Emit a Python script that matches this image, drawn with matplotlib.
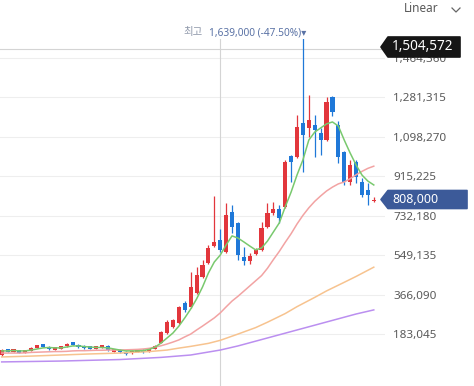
import matplotlib.pyplot as plt
from matplotlib.patches import Polygon
from matplotlib.lines import Line2D

plt.rcParams['font.family'] = ['Noto Sans', 'Noto Sans CJK KR', 'DejaVu Sans']

K = 1000  # values below are in thousands of won

# daily candles (open / high / low / close)
opens_k = [88, 116, 104, 110, 98, 108, 121, 139, 126, 111, 118, 128, 148, 135, 132, 129,
           118, 122, 132, 102, 112, 104, 95, 102, 112, 106, 116, 144, 189, 218, 236, 329,
           312, 375, 450, 514, 595, 621, 567, 752, 700, 542, 524, 556, 575, 681, 746, 765,
           775, 1010, 1006, 1163, 1140, 1154, 1117, 1084, 1285, 1154, 1030, 891, 984, 891, 853, 800]
highs_k = [118, 118, 118, 112, 112, 123, 136, 141, 128, 125, 132, 143, 150, 137, 134, 131,
           132, 136, 134, 116, 114, 106, 109, 116, 114, 121, 133, 199, 248, 253, 315, 338,
           473, 496, 528, 598, 825, 672, 792, 783, 704, 588, 561, 584, 704, 792, 797, 783,
           990, 1015, 1200, 1639, 1293, 1200, 1140, 1285, 1288, 1172, 1035, 992, 992, 907, 885, 820]
lows_k = [85, 102, 102, 96, 96, 106, 119, 125, 112, 109, 116, 126, 134, 121, 118, 115,
          116, 120, 108, 100, 98, 90, 93, 100, 98, 104, 114, 142, 186, 215, 233, 287,
          308, 372, 446, 510, 588, 565, 562, 653, 528, 505, 510, 551, 570, 676, 737, 700,
          770, 890, 1000, 938, 1098, 1006, 1015, 1080, 1195, 978, 876, 876, 885, 820, 783, 796]
closes_k = [113, 104, 116, 98, 110, 121, 134, 127, 114, 123, 130, 141, 136, 123, 120, 117,
            130, 134, 110, 114, 100, 92, 107, 114, 100, 119, 131, 195, 242, 250, 310, 297,
            405, 459, 505, 584, 613, 575, 737, 683, 551, 524, 547, 575, 677, 746, 765, 723,
            984, 982, 1146, 1108, 1177, 1131, 1084, 1262, 1215, 1006, 891, 969, 914, 830, 830, 808]

# moving averages
ma5_k = [107, 107, 109, 107, 107, 111, 116, 121, 123, 121, 121, 125, 130, 130, 127, 125,
         123, 123, 121, 116, 111, 107, 107, 107, 109, 114, 125, 144, 167, 190, 222, 260,
         301, 348, 403, 468, 519, 551, 598, 640, 630, 612, 593, 575, 584, 616, 658, 700,
         774, 843, 922, 992, 1084, 1121, 1140, 1159, 1168, 1149, 1084, 1024, 969, 922, 894, 876]
ma20_k = [97, 97, 97, 97, 98, 100, 101, 102, 103, 104, 104, 105, 107, 108, 108, 109,
          110, 110, 111, 111, 111, 112, 113, 114, 116, 119, 125, 131, 139, 148, 158, 172,
          185, 204, 222, 241, 260, 283, 311, 338, 360, 384, 408, 432, 456, 490, 530, 568,
          610, 650, 695, 735, 770, 800, 825, 848, 866, 881, 890, 905, 923, 939, 953, 963]
ma60_idx = [0, 5, 10, 15, 20, 25, 28, 30, 32, 35, 37, 40, 43, 45, 48, 50, 53, 55, 58, 60, 63]
ma60_k = [79, 83, 88, 93, 97, 104, 111, 120, 128, 142, 156, 185, 215, 240, 280, 312, 355, 385, 425, 452, 495]
ma120_idx = [0, 10, 20, 27, 32, 37, 40, 45, 50, 55, 60, 63]
ma120_k = [56, 60, 67, 77, 88, 111, 130, 167, 204, 241, 278, 297]

tick_values = [183045, 366090, 549135, 732180, 915225, 1098270, 1281315, 1464360]
cross_value = 1504572
cross_index = 37
high_text = "1,639,000 (-47.50%)▾"
last_price = 808000

UP = '#e2363c'
DOWN = '#1f78d8'

W, H = 474, 386


def fx(px):
    return px / W


def fy(py):
    return 1 - py / H


fig = plt.figure(figsize=(4.74, 3.86), dpi=100)
ax = fig.add_axes([0, 0, fx(385), (386 - 39) / H])

n = len(closes_k)
for i in range(n):
    o, h, l, c = opens_k[i] * K, highs_k[i] * K, lows_k[i] * K, closes_k[i] * K
    col = UP if c >= o else DOWN
    ax.vlines(i, l, h, color=col, lw=0.9, zorder=2)
    body = max(abs(c - o), 4000)
    ax.bar(i, body, bottom=min(o, c), width=0.7, color=col, lw=0, zorder=3)

xs = list(range(n))
ax.plot(ma120_idx, [v * K for v in ma120_k], color='#bb8ff0', lw=1.1, zorder=4)
ax.plot(ma60_idx, [v * K for v in ma60_k], color='#f7c38f', lw=1.1, zorder=4)
ax.plot(xs, [v * K for v in ma20_k], color='#f2a3a3', lw=1.1, zorder=4)
ax.plot(xs, [v * K for v in ma5_k], color='#79c96e', lw=1.1, zorder=5)

# crosshair
ax.axhline(cross_value, color='#d4d4d4', lw=0.8, zorder=1)
ax.axvline(cross_index, color='#d4d4d4', lw=0.8, zorder=1)

ax.set_xlim(-0.288, 64.9)
ax.set_ylim(-12 * 4634, (374 - 39) * 4634)
ax.set_yticks(tick_values)
ax.set_yticklabels([f"{v:,}" for v in tick_values])
ax.yaxis.tick_right()
ax.tick_params(axis='y', length=0, pad=6, labelsize=8.4, labelcolor='#5a5a5a')
ax.tick_params(axis='x', bottom=False, labelbottom=False)
ax.yaxis.grid(True, color='#eeeeee', lw=0.8)
ax.set_axisbelow(True)
for s in ax.spines.values():
    s.set_visible(False)

# price tags on the right
def price_tag(yc, h, x2, color, text, size):
    pts = [(381, yc), (388, yc - h / 2), (x2, yc - h / 2), (x2, yc + h / 2), (388, yc + h / 2)]
    poly = Polygon([(fx(a), fy(b)) for a, b in pts], closed=True, transform=fig.transFigure,
                   facecolor=color, edgecolor=color, lw=1.2, joinstyle='round', zorder=10)
    fig.add_artist(poly)
    fig.text(fx(392), fy(yc), text, color='white', fontsize=size, ha='left', va='center', zorder=11)


price_tag(47, 20, 460, '#161616', f"{cross_value:,}", 9.8)
price_tag(199.5, 18, 467, '#3c5a99', f"{last_price:,}", 9)

# high annotation
fig.text(fx(306), fy(33), high_text, color='#5a72a5', fontsize=7.3, fontweight='bold',
         ha='right', va='center')
fig.text(fx(203), fy(33), "최고", color='#8f98aa', fontsize=7.5, ha='right', va='center')

# scale selector
fig.text(fx(404), fy(9), "Linear", color='#5a5a5a', fontsize=8.5, ha='left', va='center')
fig.add_artist(Line2D([fx(452), fx(456), fx(460)], [fy(8), fy(12), fy(8)],
                      transform=fig.transFigure, color='#666666', lw=0.9))

fig.savefig('out.png', dpi=100)
